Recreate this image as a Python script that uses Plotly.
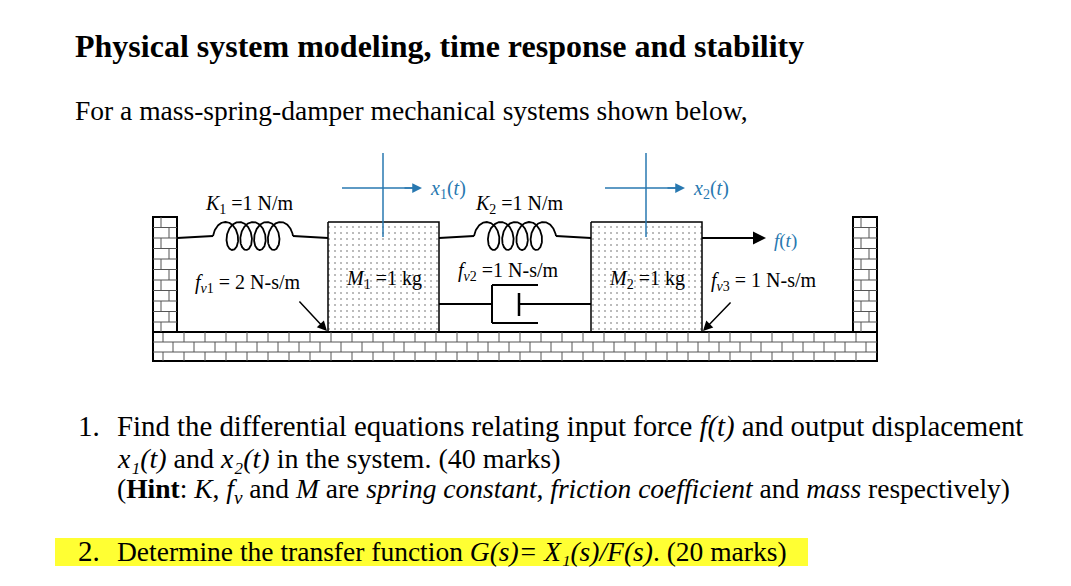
import numpy as np
import plotly.graph_objects as go

W, H = 1071, 586
title = "Physical system modeling, time response and stability"
intro = "For a mass-spring-damper mechanical systems shown below,"
K1, K2 = 1, 1
fv1, fv2, fv3 = 2, 1, 1
M1, M2 = 1, 1

fig = go.Figure()
shapes, ann = [], []
BL = "black"
BLUE = "#2878b0"
SER = "Liberation Serif"

def line(x0, y0, x1, y1, c=BL, w=2):
    shapes.append(dict(type="line", x0=x0, y0=y0, x1=x1, y1=y1, line=dict(color=c, width=w)))

def rect(x0, y0, x1, y1, w=1.5, fill=None):
    shapes.append(dict(type="rect", x0=x0, y0=y0, x1=x1, y1=y1, line=dict(color=BL, width=w),
                       fillcolor=fill or "rgba(0,0,0,0)"))

def text(x, y, s, size=20, color=BL, xa="left", fam=SER):
    ann.append(dict(x=x, y=y, text=s, showarrow=False, xanchor=xa, yanchor="middle",
                    font=dict(family=fam, size=size, color=color)))

def arrow(x0, y0, x1, y1, c=BL, w=1.5):
    ann.append(dict(x=x1, y=y1, ax=x0, ay=y0, axref="x", ayref="y", xref="x", yref="y",
                    showarrow=True, arrowhead=2, arrowsize=1.3, arrowwidth=w, arrowcolor=c, text=""))

# highlight
shapes.append(dict(type="rect", x0=55, y0=538, x1=808, y1=566, line=dict(width=0), fillcolor="#ffff33", layer="below"))

# floor bricks
fl0, fl1 = 332, 361
rect(153, fl0, 877, fl1, w=2)
for yy in (342, 352):
    line(153, yy, 877, yy, c="#555", w=1)
for r, (ya, yb) in enumerate([(332, 342), (342, 352), (352, 361)]):
    off = 0 if r % 2 == 0 else 10
    for xx in np.arange(153 + off + 10, 877, 21):
        line(xx, ya, xx, yb, c="#555", w=1)
# walls
for (xa, xb) in [(153, 177), (853, 877)]:
    rect(xa, 217, xb, fl0, w=2)
    for yy in np.arange(227.5, fl0, 10.5):
        line(xa, yy, xb, yy, c="#555", w=1)
    for i, yy in enumerate(np.arange(217, fl0, 10.5)):
        xm = xa + (8 if i % 2 == 0 else 16)
        line(xm, yy, xm, min(yy + 10.5, fl0), c="#555", w=1)

# masses with stipple
for (xa, xb) in [(328, 439), (591, 702)]:
    fig.add_trace(go.Scatter(x=[xa, xb, xb, xa, xa], y=[222, 222, fl0, fl0, 222], mode="lines",
                             line=dict(color=BL, width=1.5), fill="toself", fillcolor="white",
                             fillpattern=dict(shape=".", fgcolor="#555", size=6, solidity=0.1),
                             hoverinfo="skip", showlegend=False))

# springs (coil drawn as stretched ellipse turns)
def spring(x0, x1, yc=236):
    rx, ry = 9.0, 14.0
    t = np.linspace(-np.pi / 2, 8.5 * np.pi, 1000)
    c = (x1 - x0 - 2 * rx) / (9 * np.pi)
    xs = x0 + rx + c * (t - t[0]) + rx * np.sin(t)
    ys = yc - ry * np.cos(t)
    fig.add_trace(go.Scatter(x=xs, y=ys, mode="lines", line=dict(color=BL, width=1.8),
                             hoverinfo="skip", showlegend=False))

line(177, 238, 213, 236); spring(213, 293); line(293, 236, 328, 238)
line(439, 238, 474, 236); spring(474, 556); line(556, 236, 591, 238)

# damper
line(439, 304, 492, 304)
line(492, 285, 492, 323); line(492, 285, 538, 285); line(492, 323, 538, 323)
line(519, 293, 519, 316, w=2.5)
line(519, 304, 591, 304)

# force
line(702, 238, 760, 238)
arrow(740, 238, 766, 238, w=2)
text(772, 241, "<i>f</i>(<i>t</i>)", color=BLUE, size=19)

# displacement markers
for xc, lab in [(383, "<i>x</i><sub>1</sub>(<i>t</i>)"), (646, "<i>x</i><sub>2</sub>(<i>t</i>)")]:
    line(xc, 153, xc, 237, c=BLUE, w=1.5)
    line(xc - 41, 188, xc + 30, 188, c=BLUE, w=1.5)
    arrow(xc + 20, 188, xc + 39, 188, c=BLUE, w=1.5)
    text(xc + 45, 189, lab, color=BLUE, size=20)

# friction arrows
arrow(298, 300, 327, 331)
arrow(732, 301, 703, 331)

# diagram labels
text(203, 204, f"<i>K</i><sub>1</sub> ={K1} N/m")
text(473, 204, f"<i>K</i><sub>2</sub> ={K2} N/m")
text(193, 283, f"<i>f<sub>v</sub></i><sub>1</sub> = {fv1} N-s/m")
text(456, 271, f"<i>f<sub>v</sub></i><sub>2</sub> ={fv2} N-s/m")
text(709, 281, f"<i>f<sub>v</sub></i><sub>3</sub> = {fv3} N-s/m")
text(384, 279, f"<i>M</i><sub>1</sub> ={M1} kg", xa="center")
text(647, 279, f"<i>M</i><sub>2</sub> ={M2} kg", xa="center")

# body text
text(73, 46, f"<b>{title}</b>", size=32)
text(73, 110, intro, size=27.5)
text(76, 426, "1.", size=29)
text(115, 426, "Find the differential equations relating input force <i>f(t)</i> and output displacement", size=28.8)
text(115, 458, "<i>x₁(t)</i> and <i>x₂(t)</i> in the system. (40 marks)", size=28)
text(115, 490, "(<b>Hint</b>: <i>K</i>, <i>f<sub>v</sub></i> and <i>M</i> are <i>spring constant</i>, <i>friction coefficient</i> and <i>mass</i> respectively)", size=27.5)
text(76, 551, "2.", size=29)
text(115, 551, "Determine the transfer function <i>G(s)= X₁(s)/F(s)</i>. (20 marks)", size=27.5)

OFF = 8  # page body margin
fig.update_layout(width=W, height=H, margin=dict(l=0, r=0, t=0, b=0),
                  paper_bgcolor="white", plot_bgcolor="white", shapes=shapes, annotations=ann,
                  xaxis=dict(range=[OFF, W + OFF], visible=False, fixedrange=True),
                  yaxis=dict(range=[H + OFF, OFF], visible=False, fixedrange=True))
fig.write_html("out.html", config=dict(displayModeBar=False))
